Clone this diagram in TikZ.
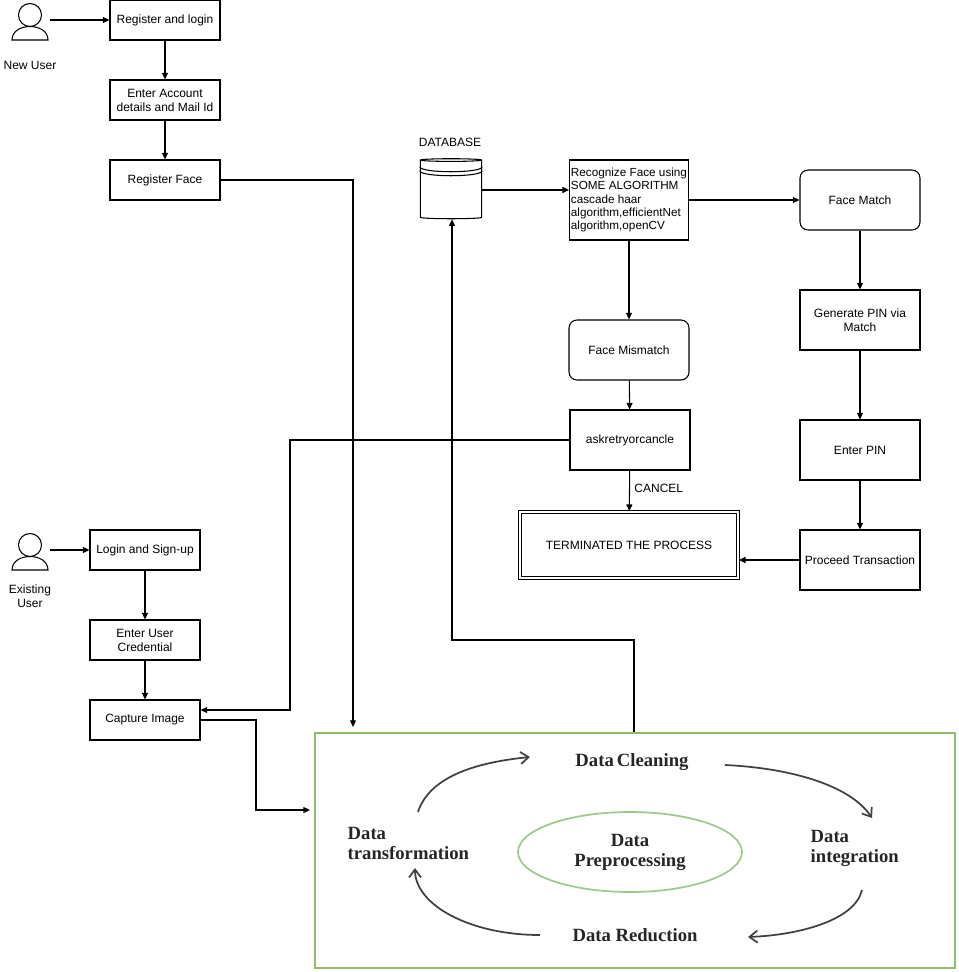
\documentclass[tikz,border=0pt]{standalone}
\usepackage{fontspec}
\setmainfont{Liberation Sans}
\newfontfamily\serifb{Liberation Serif}
\usetikzlibrary{shapes.geometric,arrows.meta,positioning}
\begin{document}
\begin{tikzpicture}[x=0.75pt,y=-0.75pt,
  box/.style={draw,thick,minimum width=82.5pt,minimum height=30pt,align=center,font=\fontsize{9}{10.5}\selectfont,inner sep=1pt},
  rbox/.style={box,rounded corners=6pt},
  arr/.style={-{Triangle[length=5pt,width=4.5pt]},thick},
  lbl/.style={font=\fontsize{9}{10.5}\selectfont,align=center},
  pp/.style={font=\serifb\bfseries\fontsize{14}{15}\selectfont,text=black!85,align=left},
  cyc/.style={draw=black!75,line width=1.3pt,-{Straight Barb[length=6pt,width=9pt]}}]
\useasboundingbox (0,0) rectangle (959,972);
% users
\draw[thick] (30,15) circle[radius=11.5];
\draw[thick] (12,40) .. controls (12,22) and (48,22) .. (48,40) -- cycle;
\coordinate (nu) at (50,20);
\node[lbl] (nul) at (30,65) {New User};
\draw[thick] (30,545) circle[radius=11.5];
\draw[thick] (12,570) .. controls (12,552) and (48,552) .. (48,570) -- cycle;
\coordinate (eu) at (50,550);
\node[lbl] (eul) at (30,596) {Existing\\User};
% boxes
\node[box] (reg) at (165,20) {Register and login};
\node[box] (acc) at (165,100) {Enter Account\\details and Mail Id};
\node[box] (rf) at (165,180) {Register Face};
\node[box] (login) at (145,550) {Login and Sign-up};
\node[box] (cred) at (145,640) {Enter User\\Credential};
\node[box] (cap) at (145,720) {Capture Image};
\node[box,minimum width=88.5pt,minimum height=60pt,align=left,font=\fontsize{8.8}{10}\selectfont] (rec) at (629,200) {Recognize Face using\\SOME ALGORITHM\\cascade haar\\algorithm,efficientNet\\algorithm,openCV};
\node[rbox,minimum width=90pt,minimum height=45pt] (fm) at (860,200) {Face Match};
\node[box,minimum width=90pt,minimum height=45pt] (gp) at (860,320) {Generate PIN via\\Match};
\node[box,minimum width=90pt,minimum height=45pt] (ep) at (860,450) {Enter PIN};
\node[box,minimum width=90pt,minimum height=45pt] (pt) at (860,560) {Proceed Transaction};
\node[rbox,minimum width=90pt,minimum height=45pt] (fmm) at (629,350) {Face Mismatch};
\node[box,minimum width=90pt,minimum height=45pt] (ask) at (630,440) {askretryorcancle};
\node[box,double,double distance=1.5pt,minimum width=164pt,minimum height=50pt] (term) at (629,545) {TERMINATED THE PROCESS};
% database
\node[draw,thick,cylinder,shape border rotate=90,aspect=0.3,minimum width=46pt,minimum height=45pt] (db) at (451,190) {};
\draw[thick] ([yshift=-5pt]db.before top) .. controls +(0,-5pt) and +(0,-5pt) .. ([yshift=-5pt]db.after top);
\draw[thick] ([yshift=-8pt]db.before top) .. controls +(0,-5pt) and +(0,-5pt) .. ([yshift=-8pt]db.after top);
\node[lbl] (dbl) at (450,142) {DATABASE};
% arrows
\draw[arr] (nu) -- (reg);
\draw[arr] (reg) -- (acc);
\draw[arr] (acc) -- (rf);
\draw[arr] (eu) -- (login);
\draw[arr] (login) -- (cred);
\draw[arr] (cred) -- (cap);
\draw[arr] (db.east) -- (rec.west |- db.east);
\draw[arr] (rec.east |- fm.west) -- (fm.west);
\draw[arr] (fm) -- (gp);
\draw[arr] (gp) -- (ep);
\draw[arr] (ep) -- (pt);
\draw[arr] (pt.west) -- (term.east |- pt.west);
\draw[arr] (rec) -- (fmm);
\draw[arr] (fmm) -- (ask);
\draw[arr] (ask) -- node[right,lbl,yshift=2pt]{CANCEL} (term);
% panel
\node[draw={rgb,255:red,140;green,190;blue,110},line width=1.5pt,minimum width=480pt,minimum height=176pt] (panel) at (635,850.5) {};
\coordinate (rfe) at (353,727);
\draw[arr] (rf.east) -| (rfe);
\draw[arr] (ask.west) -- (290,440) |- (cap.east |- 0,710);
\coordinate (pin) at (310,810);
\draw[arr] (cap.east) -- (256,720) |- (pin);
\draw[arr] (panel.north -| 634,0) |- (452,640) -- (db.south -| 452,0);
% panel content
\node[pp] (dc) at (632,762) {Data\,Cleaning};
\node[pp,anchor=west] (di) at (806,848) {Data\\integration};
\node[pp] (dr) at (635,935) {Data Reduction};
\node[pp,anchor=west] (dt) at (343,843) {Data\\transformation};
\node[draw={rgb,255:red,160;green,200;blue,140},line width=1.3pt,ellipse,minimum width=168pt,minimum height=60pt,pp,align=center] (dp) at (630,852) {Data\\Preprocessing};
\draw[cyc] (418,812) .. controls (430,775) and (480,762) .. (530,757);
\draw[cyc] (725,765) .. controls (790,768) and (850,785) .. (872,818);
\draw[cyc] (862,890) .. controls (855,920) and (800,935) .. (748,937);
\draw[cyc] (540,935) .. controls (470,935) and (415,905) .. (415,868);
\end{tikzpicture}
\end{document}
